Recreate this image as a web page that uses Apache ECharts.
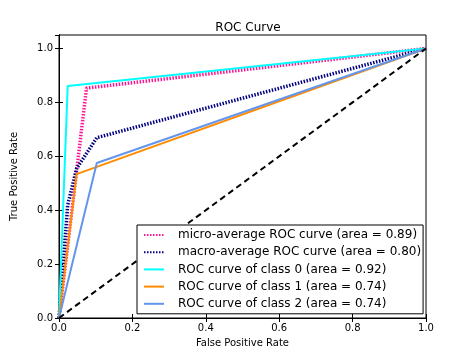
<!DOCTYPE html>
<html><head><meta charset="utf-8">
<script src="https://cdn.jsdelivr.net/npm/echarts@6/dist/echarts.min.js"></script>
<style>html,body{margin:0;padding:0;background:#fff}#c{width:474px;height:355px}</style>
</head><body><div id="c"></div>
<script>
const xTicks = [0, 0.2, 0.4, 0.6, 0.8, 1.0];
const yTicks = [0, 0.2, 0.4, 0.6, 0.8, 1.0];
const microFpr = [0, 0.075, 1];
const microTpr = [0, 0.853, 1];
const macroFpr = [0, 0.0237, 0.048, 0.103, 1];
const macroTpr = [0, 0.419, 0.555, 0.669, 1];
const c0Fpr = [0, 0.0237, 1];
const c0Tpr = [0, 0.861, 1];
const c1Fpr = [0, 0.048, 1];
const c1Tpr = [0, 0.534, 1];
const c2Fpr = [0, 0.103, 1];
const c2Tpr = [0, 0.575, 1];
const diagFpr = [0, 1];
const diagTpr = [0, 1];
const names = ['micro-average ROC curve (area = 0.89)','macro-average ROC curve (area = 0.80)','ROC curve of class 0 (area = 0.92)','ROC curve of class 1 (area = 0.74)','ROC curve of class 2 (area = 0.74)'];
const zip = (a,b) => a.map((v,i)=>[v,b[i]]);
const font = 'DejaVu Sans';
function mk(name, xs, ys, color, width, type) {
  return {name, type:'line', data: zip(xs,ys), symbol:'none', showSymbol:false, animation:false,
    lineStyle:{color, width, type}, itemStyle:{color}, xAxisIndex:0, yAxisIndex:0};
}
const chart = echarts.init(document.getElementById('c'));
const axisCommon = {
  axisLine:{show:true, lineStyle:{color:'#000', width:1}},
  axisTick:{show:true, inside:true, length:4, lineStyle:{color:'#000'}},
  splitLine:{show:false}
};
chart.setOption({
  animation:false,
  backgroundColor:'#fff',
  title:{text:'ROC Curve', left:243, top:17, textAlign:'center', textStyle:{fontFamily:font, fontSize:12, fontWeight:'normal', color:'#000'}},
  grid:{left:59, right:48, top:35, bottom:37, show:true, borderColor:'#000', borderWidth:1},
  legend:{data:names, orient:'vertical', left:137, top:225, padding:[3,2,3,6], itemGap:3.2, itemWidth:20, itemHeight:10,
    itemStyle:{opacity:0},
    borderColor:'#000', borderWidth:1, backgroundColor:'#fff', textStyle:{fontFamily:font, fontSize:12, color:'#000', lineHeight:14, padding:[0,0,0,9]}},
  xAxis:[
    Object.assign({type:'value', min:0, max:1, interval:0.2, name:'False Positive Rate', nameLocation:'middle', nameGap:20,
      nameTextStyle:{fontFamily:font, fontSize:10, color:'#000'},
      axisLabel:{fontFamily:font, fontSize:10, color:'#000', margin:5, formatter:v=>v.toFixed(1)}}, axisCommon),
    Object.assign({type:'value', min:0, max:1, interval:0.2, position:'top', axisLabel:{show:false}}, axisCommon)
  ],
  yAxis:[
    Object.assign({type:'value', min:0, max:1.05, interval:0.2, name:'True Positive Rate', nameLocation:'middle', nameGap:40,
      nameTextStyle:{fontFamily:font, fontSize:10, color:'#000'},
      axisLabel:{fontFamily:font, fontSize:10, color:'#000', margin:6, showMaxLabel:false, formatter:v=>v.toFixed(1)}}, axisCommon),
    Object.assign({type:'value', min:0, max:1.05, interval:0.2, position:'right', axisLabel:{show:false}}, axisCommon)
  ],
  series:[
    mk(names[0], microFpr, microTpr, '#ff1493', 3.5, [1.5,1.5]),
    mk(names[1], macroFpr, macroTpr, '#000080', 3.5, [1.5,1.5]),
    mk(names[2], c0Fpr, c0Tpr, '#00ffff', 2, 'solid'),
    mk(names[3], c1Fpr, c1Tpr, '#ff8c00', 2, 'solid'),
    mk(names[4], c2Fpr, c2Tpr, '#6495ed', 2, 'solid'),
    mk('chance', diagFpr, diagTpr, '#000', 2, [6,4])
  ]
});
</script></body></html>
